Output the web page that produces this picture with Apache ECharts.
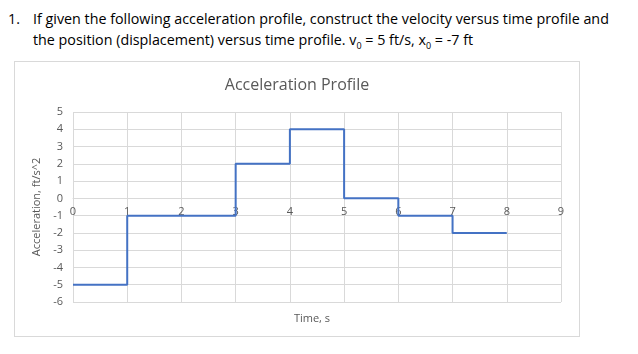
<!DOCTYPE html>
<html lang="en">
<head>
    <meta charset="UTF-8">
    <title>Acceleration Profile</title>
    <script src="https://cdn.jsdelivr.net/npm/echarts@6/dist/echarts.min.js"></script>
    <style>
        body { margin: 0; width: 638px; height: 354px; background: #fff; position: relative; overflow: hidden; font-family: "Open Sans", sans-serif; }
        .q { position: absolute; font-size: 14.3px; color: #000; white-space: nowrap; }
        .chart-box { position: absolute; left: 14px; top: 61px; width: 566px; height: 276px; box-sizing: border-box; border: 1px solid #d9d9d9; }
        #accChart { width: 100%; height: 100%; }
    </style>
</head>
<body>
    <div class="q" style="left:8px; top:9px;">1.</div>
    <div class="q" style="left:33px; top:9px;">If given the following acceleration profile, construct the velocity versus time profile and</div>
    <div class="q" style="left:33px; top:30px;">the position (displacement) versus time profile. v<sub style="font-size:9px">0</sub> = 5 ft/s, x<sub style="font-size:9px">0</sub> = -7 ft</div>

    <div class="chart-box"><div id="accChart"></div></div>

    <script>
        // step points: value holds from this time until the next one
        var times = [0, 1, 3, 4, 5, 6, 7, 8];
        var accel = [-5, -1, 2, 4, 0, -1, -2, -2];
        var yMin = -6, yMax = 5;

        var chart = echarts.init(document.getElementById('accChart'));
        var labelColor = '#595959';
        var gridColor = '#d9d9d9';

        var gridTop = 50, gridBottom = 34;
        var gridHeight = chart.getHeight() - gridTop - gridBottom;
        // move the time axis up onto y = 0 (like Excel does)
        var zeroOffset = -gridHeight * (0 - yMin) / (yMax - yMin);

        chart.setOption({
            animation: false,
            title: {
                text: 'Acceleration Profile',
                left: 'center',
                top: 10,
                textStyle: { fontFamily: 'Open Sans', fontSize: 16, fontWeight: 'normal', color: labelColor }
            },
            graphic: [{
                type: 'text',
                x: 297,
                y: 257,
                style: { text: 'Time, s', fontFamily: 'Open Sans', fontSize: 11, fill: labelColor, align: 'center', verticalAlign: 'middle' }
            }],
            grid: { left: 58, right: 18, top: gridTop, bottom: gridBottom, containLabel: false, outerBoundsMode: 'none' },
            xAxis: {
                type: 'value',
                position: 'bottom',
                offset: zeroOffset,
                min: 0, max: 9, interval: 1,
                axisLine: { show: true, onZero: false, lineStyle: { color: gridColor } },
                axisTick: { show: false },
                axisLabel: { fontFamily: 'Open Sans', fontSize: 11, color: labelColor, margin: 8 },
                splitLine: { lineStyle: { color: gridColor } }
            },
            yAxis: {
                type: 'value',
                min: yMin, max: yMax, interval: 1,
                name: 'Acceleration, ft/s^2',
                nameLocation: 'middle',
                nameGap: 30,
                nameTextStyle: { fontFamily: 'Open Sans', fontSize: 11, color: labelColor },
                axisLine: { show: false, onZero: false },
                axisTick: { show: false },
                axisLabel: { fontFamily: 'Open Sans', fontSize: 11, color: labelColor, margin: 10 },
                splitLine: { lineStyle: { color: gridColor } }
            },
            series: [{
                type: 'line',
                step: 'end',
                data: times.map(function (t, i) { return [t, accel[i]]; }),
                showSymbol: false,
                lineStyle: { color: '#4472C4', width: 2 }
            }]
        });
    </script>
</body>
</html>
